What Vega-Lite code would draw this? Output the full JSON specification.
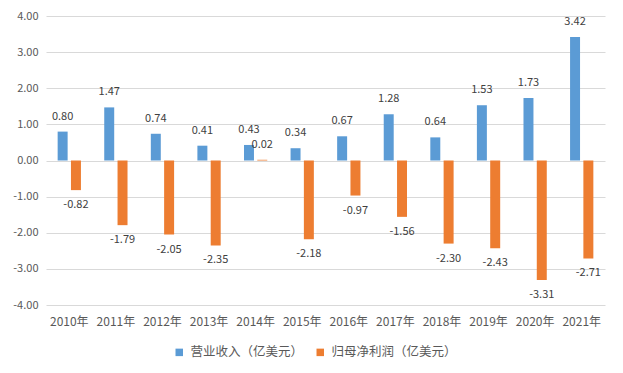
{
  "$schema": "https://vega.github.io/schema/vega-lite/v6.json",
  "width": 559,
  "height": 289,
  "autosize": {"type": "none"},
  "padding": {"left": 46, "top": 16, "right": 18, "bottom": 68},
  "background": "white",
  "config": {
    "font": "Noto Sans CJK SC",
    "view": {"stroke": null},
    "locale": {"number": {"decimal": ".", "thousands": ",", "grouping": [3], "currency": ["$", ""], "minus": "-"}},
    "axis": {"labelColor": "#595959", "labelFontSize": 11, "titleColor": "#595959"}
  },
  "data": {
    "values": [
      {"year": "2010年", "series": "营业收入（亿美元）", "v": 0.80},
      {"year": "2010年", "series": "归母净利润（亿美元）", "v": -0.82},
      {"year": "2011年", "series": "营业收入（亿美元）", "v": 1.47},
      {"year": "2011年", "series": "归母净利润（亿美元）", "v": -1.79},
      {"year": "2012年", "series": "营业收入（亿美元）", "v": 0.74},
      {"year": "2012年", "series": "归母净利润（亿美元）", "v": -2.05},
      {"year": "2013年", "series": "营业收入（亿美元）", "v": 0.41},
      {"year": "2013年", "series": "归母净利润（亿美元）", "v": -2.35},
      {"year": "2014年", "series": "营业收入（亿美元）", "v": 0.43},
      {"year": "2014年", "series": "归母净利润（亿美元）", "v": 0.02},
      {"year": "2015年", "series": "营业收入（亿美元）", "v": 0.34},
      {"year": "2015年", "series": "归母净利润（亿美元）", "v": -2.18},
      {"year": "2016年", "series": "营业收入（亿美元）", "v": 0.67},
      {"year": "2016年", "series": "归母净利润（亿美元）", "v": -0.97},
      {"year": "2017年", "series": "营业收入（亿美元）", "v": 1.28},
      {"year": "2017年", "series": "归母净利润（亿美元）", "v": -1.56},
      {"year": "2018年", "series": "营业收入（亿美元）", "v": 0.64},
      {"year": "2018年", "series": "归母净利润（亿美元）", "v": -2.30},
      {"year": "2019年", "series": "营业收入（亿美元）", "v": 1.53},
      {"year": "2019年", "series": "归母净利润（亿美元）", "v": -2.43},
      {"year": "2020年", "series": "营业收入（亿美元）", "v": 1.73},
      {"year": "2020年", "series": "归母净利润（亿美元）", "v": -3.31},
      {"year": "2021年", "series": "营业收入（亿美元）", "v": 3.42},
      {"year": "2021年", "series": "归母净利润（亿美元）", "v": -2.71}
    ]
  },
  "encoding": {
    "x": {
      "field": "year", "type": "nominal", "title": null,
      "scale": {"paddingInner": 0.5, "paddingOuter": 0.25},
      "axis": {"labelAngle": 0, "ticks": false, "domain": false, "labelPadding": 11, "labelFontSize": 12}
    },
    "xOffset": {
      "field": "series", "type": "nominal",
      "sort": ["营业收入（亿美元）", "归母净利润（亿美元）"],
      "scale": {"paddingInner": 0.25, "paddingOuter": 0}
    },
    "y": {
      "field": "v", "type": "quantitative", "title": null,
      "scale": {"domain": [-4, 4], "nice": false},
      "axis": {"values": [-4, -3, -2, -1, 0, 1, 2, 3, 4], "format": ".2f", "ticks": false, "domain": false,
               "gridColor": "#d9d9d9", "gridWidth": 1, "labelPadding": 8, "labelFontSize": 11}
    }
  },
  "layer": [
    {
      "mark": {"type": "bar"},
      "encoding": {
        "color": {
          "field": "series", "type": "nominal",
          "sort": ["营业收入（亿美元）", "归母净利润（亿美元）"],
          "scale": {"domain": ["营业收入（亿美元）", "归母净利润（亿美元）"], "range": ["#5B9BD5", "#ED7D31"]},
          "legend": {
            "title": null, "orient": "none", "direction": "horizontal",
            "legendX": 127, "legendY": 330,
            "symbolType": "square", "symbolSize": 56, "symbolStrokeWidth": 0,
            "labelFontSize": 12.5, "labelColor": "#595959", "labelOffset": 5, "columnPadding": 10
          }
        }
      }
    },
    {
      "transform": [{"filter": "datum.v >= 0"}],
      "mark": {"type": "text", "baseline": "middle", "dy": -15, "fontSize": 11, "color": "#404040"},
      "encoding": {"text": {"field": "v", "type": "quantitative", "format": ".2f"}}
    },
    {
      "transform": [{"filter": "datum.v < 0"}],
      "mark": {"type": "text", "baseline": "middle", "dy": 15, "fontSize": 11, "color": "#404040"},
      "encoding": {"text": {"field": "v", "type": "quantitative", "format": ".2f"}}
    }
  ]
}
